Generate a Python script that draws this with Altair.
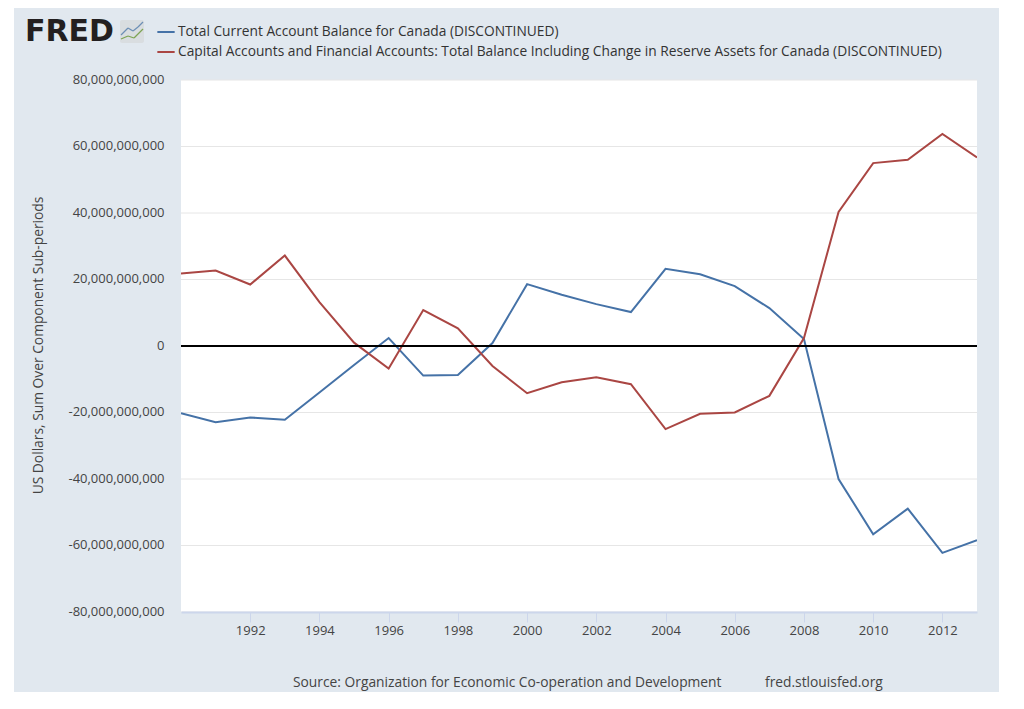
import altair as alt
import pandas as pd

years = list(range(1990, 2014))
current = [-20.2, -22.9, -21.5, -22.2, -14.0, -5.7, 2.4, -8.9, -8.7, 0.9, 18.6, 15.4,
           12.6, 10.2, 23.2, 21.6, 18.0, 11.4, 2.1, -40.0, -56.6, -48.9, -62.2, -58.4]
capital = [21.8, 22.7, 18.5, 27.2, 13.2, 1.0, -6.8, 10.8, 5.3, -6.0, -14.2, -10.9,
           -9.4, -11.5, -25.0, -20.4, -20.0, -15.0, 2.4, 40.3, 55.0, 56.0, 63.8, 56.7]
s1 = "Total Current Account Balance for Canada (DISCONTINUED)"
s2 = "Capital Accounts and Financial Accounts: Total Balance Including Change in Reserve Assets for Canada (DISCONTINUED)"
y_ticks = [v * 1e9 for v in range(-80, 81, 20)]
x_ticks = list(range(1992, 2013, 2))

df = pd.DataFrame(
    [{"year": y, "value": v * 1e9, "series": s1} for y, v in zip(years, current)]
    + [{"year": y, "value": v * 1e9, "series": s2} for y, v in zip(years, capital)]
)

FONT = "Open Sans"
INK = "#444444"
PANEL = "#e1e8ef"
W, H = 796, 532
L, T = 173, 72  # plot offset in the canvas

def box(x, x2, y, y2, color, **kw):
    return alt.Chart(pd.DataFrame({"a": [0]})).mark_rect(color=color, **kw).encode(
        x=alt.value(x), x2=alt.value(x2), y=alt.value(y), y2=alt.value(y2))

def seg(x, y, x2, y2, color):
    return alt.Chart(pd.DataFrame({"a": [0]})).mark_rule(color=color, strokeWidth=1.2, clip=False).encode(
        x=alt.value(x - 181), x2=alt.value(x2 - 181), y=alt.value(y - 80), y2=alt.value(y2 - 80))

def label(text, x, y, **kw):
    return alt.Chart(pd.DataFrame({"t": [text]})).mark_text(font=FONT, clip=False, **kw).encode(
        text="t:N", x=alt.value(x), y=alt.value(y))

panel = box(14 - 181, 999 - 181, -72, 692 - 80, PANEL)
plotbg = box(0, W, 0, H, "white")

xs = alt.Scale(domain=[1990, 2013], nice=False, zero=False)
ys = alt.Scale(domain=[-80e9, 80e9], nice=False, zero=False)

y_axis = alt.Axis(
    values=y_ticks, grid=False, tickSize=0, domain=False,
    labelExpr="(datum.value < 0 ? '-' : '') + format(abs(datum.value), ',.0f')",
    labelFont=FONT, labelFontSize=13, labelColor=INK, labelPadding=17, labelOffset=-1, zindex=1,
    title="US Dollars, Sum Over Component Sub-periods", titleFont=FONT, titleFontSize=13.8,
    titleFontWeight="normal", titleColor=INK, titleX=-136, titleY=H / 2 - 1)

grid = alt.Chart(pd.DataFrame({"v": y_ticks})).mark_rule(color="#e6e6e6", strokeWidth=1).encode(
    y=alt.Y("v:Q", scale=ys, axis=y_axis, title="US Dollars, Sum Over Component Sub-periods"))

lines = alt.Chart(df).mark_line(strokeWidth=2, clip=True).encode(
    x=alt.X("year:Q", scale=xs, axis=alt.Axis(
        values=x_ticks, format="d", grid=False, title=None, tickSize=10, tickColor="#ccd6eb",
        domainColor="#ccd6eb", domainWidth=2, labelFont=FONT, labelFontSize=13, labelColor=INK,
        labelPadding=2, zindex=1)),
    y=alt.Y("value:Q", scale=ys, axis=y_axis),
    color=alt.Color("series:N", scale=alt.Scale(domain=[s1, s2], range=["#4572a7", "#aa4643"]),
        sort=[s1, s2], legend=alt.Legend(
            orient="none", legendX=156 - 181, legendY=22 - 80, title=None, symbolType="stroke",
            symbolSize=300, symbolStrokeWidth=2, labelFont=FONT, labelFontSize=13.75, labelColor="#333333",
            labelFontWeight=500, labelLimit=0, labelOffset=2, rowPadding=3, symbolOffset=0)),
)

zero = alt.Chart(pd.DataFrame({"v": [0]})).mark_rule(color="black", strokeWidth=2).encode(
    y=alt.Y("v:Q", scale=ys, axis=y_axis))

logo = alt.Chart(pd.DataFrame({"t": ["FRED"]})).mark_text(
    font="DejaVu Sans", clip=False, fontSize=30, fontWeight="bold", color="#231f20", align="left", baseline="middle"
).encode(text="t:N", x=alt.value(25 - 181), y=alt.value(32 - 80))
icon = box(120 - 181, 144 - 181, 20 - 80, 43 - 80, "#d9dde0", cornerRadius=2)
icon_segs = [
    seg(121, 35, 128, 28, "#6d8fb5"), seg(128, 28, 133, 31, "#6d8fb5"),
    seg(133, 31, 138, 27, "#6d8fb5"), seg(138, 27, 143, 22, "#6d8fb5"),
    seg(121, 39, 128, 36, "#7da453"), seg(128, 36, 134, 38, "#7da453"),
    seg(134, 38, 143, 29, "#7da453"),
]
source = label("Source: Organization for Economic Co-operation and Development", 293 - 181, 683 - 80,
               fontSize=13.8, color=INK, align="left", baseline="middle")
site = label("fred.stlouisfed.org", 765 - 181, 683 - 80, fontSize=13.8, color=INK, align="left", baseline="middle")

chart = alt.layer(panel, plotbg, grid, lines, zero, logo, icon, *icon_segs, source, site).resolve_scale(
    x="shared", y="shared"
).properties(
    width=W, height=H, background="white",
    padding={"left": L, "top": T, "right": 1000 - 173 - W, "bottom": 690 - 72 - H},
    autosize=alt.AutoSizeParams(type="none"),
).configure_view(stroke=None)

chart.save("out.html", embed_options={"renderer": "svg", "actions": False})
